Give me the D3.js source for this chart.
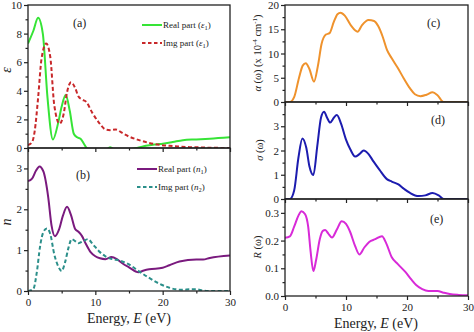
<!DOCTYPE html>
<html><head><meta charset="utf-8">
<script src="https://cdn.jsdelivr.net/npm/d3@7"></script>
<style>
body{margin:0;background:#fff;}
svg text{font-family:"Liberation Serif","Times New Roman",serif !important;fill:#222;}
</style></head>
<body><svg id="c" width="474" height="332"></svg>
<script>
// ---- data (energy in eV) ----
const eps1E = [0,0.8,1.5,2.2,2.9,3.7,4.5,5.0,5.6,6.2,6.8,7.3,7.8,8.3,8.7,9.5,10.5,11.5,12.2,13,14,15,16.2,17.5,19,20,21.5,23,25,27,30];
const eps1V = [7.3,8.2,9.1,8.0,3.5,0.6,1.8,2.9,3.7,2.6,1.0,0.75,0.65,0.3,0.0,-0.4,-0.5,-0.2,0.05,-0.15,-0.2,-0.1,0.0,0.15,0.25,0.3,0.42,0.55,0.6,0.65,0.75];
const eps2E = [0,0.6,1.0,1.5,2.0,2.7,3.3,3.9,4.7,5.3,5.8,6.4,7.0,7.5,8.0,8.7,9.5,10.5,11.5,12.2,13,14,15,16.5,18,19.5,21,22.5,24,25,27,30];
const eps2V = [0.2,0.4,1.2,3.5,6.2,7.3,6.4,3.0,1.7,2.4,3.9,4.6,4.2,3.6,3.4,3.2,2.5,1.8,1.3,1.25,1.3,1.05,0.8,0.55,0.35,0.22,0.15,0.1,0.06,0.05,0.02,0.0];
const n1E = [0,0.6,1.2,1.7,2.3,3.0,3.5,4.0,4.6,5.2,5.8,6.4,7.0,7.5,8.0,8.6,9.3,10,10.7,11.5,12.4,13.2,14,15,16.4,17.2,18,20,21,22.5,25,26,27,30];
const n1V = [2.69,2.75,2.95,3.05,2.92,2.3,1.6,1.34,1.5,1.85,2.06,1.85,1.52,1.45,1.35,1.15,0.95,0.85,0.8,0.78,0.83,0.78,0.68,0.58,0.46,0.5,0.53,0.57,0.63,0.72,0.77,0.77,0.81,0.87];
const n2E = [0,0.8,1.3,1.8,2.3,2.8,3.3,3.9,4.5,5.0,5.5,6.0,6.5,7.0,7.5,8.2,8.9,9.6,10.5,11.5,12.5,13.5,15,16.5,18,19.5,21,22,23,24,25,26,27,30];
const n2V = [0.0,0.05,0.45,1.1,1.45,1.53,1.4,0.9,0.6,0.49,0.7,1.05,1.27,1.22,1.17,1.22,1.27,1.15,0.98,0.85,0.78,0.75,0.65,0.48,0.32,0.18,0.08,0.04,0.03,0.04,0.04,0.01,0,0];
const alphaE = [0,0.8,1.5,2.3,2.9,3.4,4.0,4.75,5.4,6.0,6.7,7.3,8.0,8.6,9.1,9.8,10.8,11.9,12.6,13.7,14.6,15.3,16.0,16.7,17.5,18.5,19.5,20.5,21.3,22.2,23.2,24.2,25.0,26,30];
const alphaV = [0,0,1.0,5.0,7.5,8.0,6.8,4.2,7.5,12.0,13.9,14.2,16.5,18.1,18.4,17.8,15.8,14.5,15.8,16.9,16.7,15.6,13.5,10.8,9.0,7.0,4.8,2.8,1.6,1.2,1.5,2.0,1.4,0,0];
const sigmaE = [0,0.8,1.5,2.2,2.85,3.5,4.0,4.65,5.3,5.9,6.4,6.9,7.4,8.0,8.5,9.2,10.0,10.7,11.5,12.2,12.9,13.7,14.5,15.5,16.7,17.5,18.6,19.5,20.5,21.9,23,24.2,25.2,26,30];
const sigmaV = [0,0,0.35,1.7,2.5,2.1,1.35,0.99,2.2,3.35,3.6,3.35,3.15,3.35,3.46,3.1,2.45,2.05,1.75,1.85,2.0,1.85,1.55,1.2,0.82,0.72,0.6,0.42,0.25,0.12,0.15,0.25,0.15,0,0];
const reflE = [0,0.8,1.5,2.2,2.7,3.3,3.8,4.2,4.65,5.1,5.7,6.2,6.6,7.1,7.7,8.5,9.3,10,10.7,11.5,12.2,13,13.8,14.8,15.9,16.6,17.5,18.5,19.8,20.7,21.5,22.5,23.5,25,26,27,28.5,30];
const reflV = [0.21,0.215,0.25,0.29,0.306,0.295,0.25,0.16,0.09,0.13,0.205,0.235,0.238,0.225,0.211,0.24,0.27,0.26,0.23,0.18,0.15,0.175,0.195,0.205,0.216,0.19,0.14,0.115,0.085,0.06,0.04,0.025,0.018,0.018,0.012,0.007,0.004,0.003];
const xTicks = [0,10,20,30];
const xMinor = [5,15,25];

const FONT = "'Liberation Serif','Times New Roman',serif";
const svg = d3.select("#c");

function panel(o){
  const x = d3.scaleLinear().domain([0,30]).range([o.x0,o.x1]);
  const y = d3.scaleLinear().domain(o.yd).range([o.y1,o.y0]);
  const g = svg.append("g");
  const id = "clip"+o.name;
  svg.append("defs").append("clipPath").attr("id",id).append("rect")
    .attr("x",o.x0).attr("y",o.y0).attr("width",o.x1-o.x0).attr("height",o.y1-o.y0);
  const line = d3.line().x(d=>x(d[0])).y(d=>y(d[1])).curve(d3.curveMonotoneX);
  o.series.forEach(s=>{
    g.append("path").attr("clip-path",`url(#${id})`)
      .attr("d",line(d3.zip(s.E,s.V))).attr("fill","none")
      .attr("stroke",s.color).attr("stroke-width",2)
      .attr("stroke-dasharray",s.dash?"4,2.5":null);
  });
  const ya = d3.axisLeft(y).tickValues(o.yt).tickSize(4).tickPadding(2).tickFormat(o.yf||d3.format("d"));
  g.append("g").attr("transform",`translate(${o.x0},0)`).call(ya);
  const ym = d3.axisLeft(y).tickValues(o.ym).tickSize(2.5).tickFormat("");
  g.append("g").attr("transform",`translate(${o.x0},0)`).call(ym);
  const xa = d3.axisBottom(x).tickValues(xTicks).tickSize(4).tickPadding(3).tickFormat(o.xl?d3.format("d"):"");
  g.append("g").attr("transform",`translate(0,${o.y1})`).call(xa);
  const xm = d3.axisBottom(x).tickValues(xMinor).tickSize(2.5).tickFormat("");
  g.append("g").attr("transform",`translate(0,${o.y1})`).call(xm);
  g.selectAll(".domain").remove();
  g.selectAll(".tick line").attr("stroke","#222").attr("stroke-width",1.2);
  g.selectAll(".tick text").attr("font-size",11).attr("fill","#222").style("font-family",FONT);
  g.append("rect").attr("x",o.x0).attr("y",o.y0).attr("width",o.x1-o.x0).attr("height",o.y1-o.y0)
    .attr("fill","none").attr("stroke","#222").attr("stroke-width",1.3);
  g.append("text").attr("x",o.lab[0]).attr("y",o.lab[1]).attr("font-size",12).style("font-family",FONT).text(o.label);
  return {x,y,g};
}

panel({name:"a",x0:28,x1:230,y0:5,y1:148,yd:[0,10],yt:[0,2,4,6,8,10],ym:[1,3,5,7,9],
  series:[{E:eps1E,V:eps1V,color:"#36e436"},{E:eps2E,V:eps2V,color:"#c8282a",dash:true}],label:"(a)",lab:[73,27]});
panel({name:"b",x0:28,x1:230,y0:148,y1:291,yd:[0,3.5],yt:[0,1,2,3],ym:[0.5,1.5,2.5],xl:true,
  series:[{E:n1E,V:n1V,color:"#7a1a7e"},{E:n2E,V:n2V,color:"#2b8f8a",dash:true}],label:"(b)",lab:[76,179]});
panel({name:"c",x0:285,x1:468,y0:5,y1:102,yd:[0,20],yt:[0,5,10,15,20],ym:[2.5,7.5,12.5,17.5],
  series:[{E:alphaE,V:alphaV,color:"#ef922c"}],label:"(c)",lab:[427,27]});
panel({name:"d",x0:285,x1:468,y0:102,y1:199,yd:[0,4],yt:[0,1,2,3],ym:[0.5,1.5,2.5,3.5],
  series:[{E:sigmaE,V:sigmaV,color:"#1c1caf"}],label:"(d)",lab:[431,124]});
panel({name:"e",x0:285,x1:468,y0:199,y1:296,yd:[0,0.35],yt:[0,0.1,0.2,0.3],ym:[0.05,0.15,0.25],xl:true,yf:d3.format(".1f"),
  series:[{E:reflE,V:reflV,color:"#d82ad8"}],label:"(e)",lab:[430,223]});

function legend(x,y,color,dash,txt,sub){
  svg.append("line").attr("x1",x).attr("x2",x+20).attr("y1",y).attr("y2",y)
    .attr("stroke",color).attr("stroke-width",2).attr("stroke-dasharray",dash?"3.5,2.5":null);
  const t = svg.append("text").attr("x",x+21).attr("y",y+3).attr("font-size",9).style("font-family",FONT);
  t.append("tspan").text(txt+" (");
  t.append("tspan").attr("font-style","italic").text(sub[0]);
  t.append("tspan").attr("font-size",6.5).attr("dy",2).text(sub[1]);
  t.append("tspan").attr("dy",-2).text(")");
}
legend(142,25,"#36e436",false,"Real part",["ε","1"]);
legend(142,43,"#c8282a",true,"Img part",["ε","1"]);
legend(137,169,"#7a1a7e",false,"Real part",["n","1"]);
legend(137,187,"#2b8f8a",true,"Img part",["n","2"]);

svg.append("text").attr("transform","translate(11,70) rotate(-90)").attr("text-anchor","middle")
  .attr("font-size",14).attr("font-style","italic").style("font-family",FONT).text("ε");
svg.append("text").attr("transform","translate(11,222) rotate(-90)").attr("text-anchor","middle")
  .attr("font-size",14).attr("font-style","italic").style("font-family",FONT).text("n");
[[129,298],[376,303]].forEach(([cx,cy])=>{
  const t = svg.append("text").attr("x",cx).attr("y",cy+25).attr("text-anchor","middle").attr("font-size",14).style("font-family",FONT);
  t.append("tspan").text("Energy, ");
  t.append("tspan").attr("font-style","italic").text("E");
  t.append("tspan").text(" (eV)");
});
{
  const t = svg.append("text").attr("transform","translate(261,53) rotate(-90)").attr("text-anchor","middle").attr("font-size",10.5).style("font-family",FONT);
  t.append("tspan").attr("font-style","italic").text("α");
  t.append("tspan").text(" (ω) (x 10");
  t.append("tspan").attr("font-size",7).attr("dy",-4).text("-4");
  t.append("tspan").attr("dy",4).text(" cm");
  t.append("tspan").attr("font-size",7).attr("dy",-4).text("-1");
  t.append("tspan").attr("dy",4).text(")");
}
{
  const t = svg.append("text").attr("transform","translate(263,150) rotate(-90)").attr("text-anchor","middle").attr("font-size",10.5).style("font-family",FONT);
  t.append("tspan").attr("font-style","italic").text("σ");
  t.append("tspan").text(" (ω)");
}
{
  const t = svg.append("text").attr("transform","translate(261,247) rotate(-90)").attr("text-anchor","middle").attr("font-size",10.5).style("font-family",FONT);
  t.append("tspan").attr("font-style","italic").text("R");
  t.append("tspan").text(" (ω)");
}
</script></body></html>
